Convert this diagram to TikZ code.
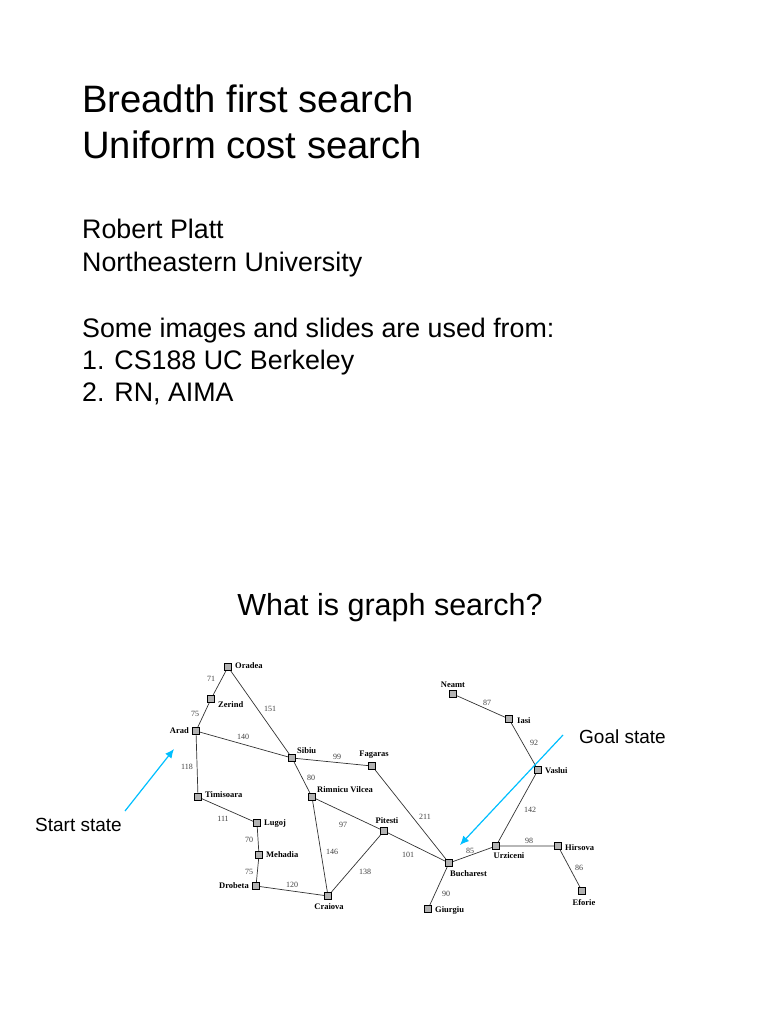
\documentclass[tikz,border=0pt]{standalone}
\usepackage{fontspec}
\setmainfont{Liberation Sans}
\newfontfamily\cityfont{Liberation Serif}
\begin{document}
\begin{tikzpicture}[x=1pt,y=-1pt,
  city/.style={draw=black,fill=gray!60,line width=1.2pt,minimum size=7pt,inner sep=0pt},
  clab/.style={font=\cityfont\bfseries\fontsize{8.5}{9}\selectfont,inner sep=1pt},
  wlab/.style={font=\cityfont\fontsize{8}{9}\selectfont,text=black!75,inner sep=0pt},
  road/.style={draw=black!80,line width=0.7pt},
  pointer/.style={draw={rgb,255:red,0;green,191;blue,255},line width=1.2pt,-{Latex[length=9pt,width=8pt]}},
  big/.style={anchor=base west,inner sep=0pt,font=\fontsize{38.2}{44}\selectfont},
  mid/.style={anchor=base west,inner sep=0pt,font=\fontsize{26.8}{30}\selectfont}]
\usetikzlibrary{arrows.meta}
\useasboundingbox (0,0) rectangle (768,1024);
\node[big] (t1) at (82,113) {Breadth first search};
\node[big] (t2) at (82,159) {Uniform cost search};
\node[mid] (a1) at (82,239) {Robert Platt};
\node[mid] (a2) at (82,271) {Northeastern University};
\node[mid] (a3) at (82,337) {Some images and slides are used from:};
\node[mid] (a4) at (82,369) {1. CS188 UC Berkeley};
\node[mid] (a5) at (82,401) {2. RN, AIMA};
\node[anchor=base,inner sep=0pt,font=\fontsize{30.5}{34}\selectfont] (h) at (390,615) {What is graph search?};

\node[city] (Or) at (228,667) {};
\node[city] (Ze) at (211,699) {};
\node[city] (Ar) at (196,731) {};
\node[city] (Si) at (292,758) {};
\node[city] (Fa) at (372,766) {};
\node[city] (Ti) at (198,797) {};
\node[city] (Lu) at (257,823) {};
\node[city] (Ri) at (312,797) {};
\node[city] (Pi) at (384,831) {};
\node[city] (Me) at (259,855) {};
\node[city] (Dr) at (256,886) {};
\node[city] (Cr) at (328,896) {};
\node[city] (Bu) at (449,863) {};
\node[city] (Gi) at (428,909) {};
\node[city] (Ur) at (496,846) {};
\node[city] (Hi) at (558,846) {};
\node[city] (Ef) at (582,891) {};
\node[city] (Va) at (538,770) {};
\node[city] (Ia) at (509,719) {};
\node[city] (Ne) at (453,694) {};

\node[clab,anchor=west] (lOr) at (234,666) {Oradea};
\node[clab,anchor=west] (lZe) at (217,705) {Zerind};
\node[clab,anchor=east] (lAr) at (190,731) {Arad};
\node[clab,anchor=west] (lSi) at (296,751) {Sibiu};
\node[clab,anchor=south] (lFa) at (374,760) {Fagaras};
\node[clab,anchor=west] (lTi) at (204,795) {Timisoara};
\node[clab,anchor=west] (lLu) at (263,823) {Lugoj};
\node[clab,anchor=west] (lRi) at (316,790) {Rimnicu Vilcea};
\node[clab,anchor=south] (lPi) at (387,825) {Pitesti};
\node[clab,anchor=west] (lMe) at (265,855) {Mehadia};
\node[clab,anchor=east] (lDr) at (250,886) {Drobeta};
\node[clab,anchor=north] (lCr) at (329,902) {Craiova};
\node[clab,anchor=north west] (lBu) at (449,869) {Bucharest};
\node[clab,anchor=west] (lGi) at (434,910) {Giurgiu};
\node[clab,anchor=north] (lUr) at (509,851) {Urziceni};
\node[clab,anchor=west] (lHi) at (564,848) {Hirsova};
\node[clab,anchor=north] (lEf) at (584,898) {Eforie};
\node[clab,anchor=west] (lVa) at (544,771) {Vaslui};
\node[clab,anchor=west] (lIa) at (516,721) {Iasi};
\node[clab,anchor=south] (lNe) at (453,689) {Neamt};

\path[road] (Or) -- (Ze) (Ze) -- (Ar) (Or) -- (Si) (Ar) -- (Si) (Ar) -- (Ti)
  (Si) -- (Fa) (Si) -- (Ri) (Ti) -- (Lu) (Lu) -- (Me) (Me) -- (Dr) (Dr) -- (Cr)
  (Ri) -- (Cr) (Ri) -- (Pi) (Cr) -- (Pi) (Pi) -- (Bu) (Fa) -- (Bu) (Bu) -- (Gi)
  (Bu) -- (Ur) (Ur) -- (Hi) (Hi) -- (Ef) (Ur) -- (Va) (Va) -- (Ia) (Ia) -- (Ne);

\node[wlab] (w1) at (211,679) {71};
\node[wlab] (w2) at (195,714) {75};
\node[wlab] (w3) at (270,709) {151};
\node[wlab] (w4) at (243,737) {140};
\node[wlab] (w5) at (187,767) {118};
\node[wlab] (w6) at (337,757) {99};
\node[wlab] (w7) at (311,778) {80};
\node[wlab] (w8) at (223,819) {111};
\node[wlab] (w9) at (343,825) {97};
\node[wlab] (w10) at (332,852) {146};
\node[wlab] (w11) at (249,840) {70};
\node[wlab] (w12) at (249,872) {75};
\node[wlab] (w13) at (292,885) {120};
\node[wlab] (w14) at (365,872) {138};
\node[wlab] (w15) at (425,817) {211};
\node[wlab] (w16) at (408,855) {101};
\node[wlab] (w17) at (470,851) {85};
\node[wlab] (w18) at (446,894) {90};
\node[wlab] (w19) at (529,841) {98};
\node[wlab] (w20) at (530,810) {142};
\node[wlab] (w21) at (534,743) {92};
\node[wlab] (w22) at (487,703) {87};
\node[wlab] (w23) at (579,868) {86};

\node[anchor=base west,inner sep=0pt,font=\fontsize{19}{22}\selectfont] (ss) at (35,831) {Start state};
\node[anchor=base west,inner sep=0pt,font=\fontsize{19}{22}\selectfont] (gs) at (579,743) {Goal state};
\coordinate (sA) at (125,811);
\coordinate (sB) at (174,749);
\coordinate (gA) at (563,735);
\coordinate (gB) at (460,845);
\draw[pointer] (sA) -- (sB);
\draw[pointer] (gA) -- (gB);
\end{tikzpicture}
\end{document}
